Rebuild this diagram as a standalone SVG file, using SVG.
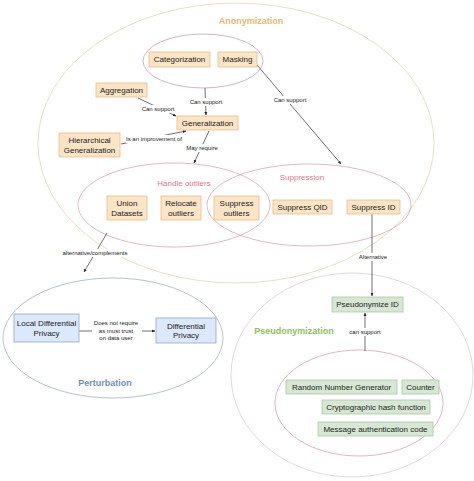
<svg xmlns="http://www.w3.org/2000/svg" width="474" height="481" viewBox="0 0 474 481">
<style>
text{font-family:"Liberation Sans",Arial,sans-serif;text-anchor:middle;dominant-baseline:central}
.n{font-size:8px;fill:#222}
.o rect{fill:#fce4c4;stroke:#e6bf8c;stroke-width:0.8}
.g rect{fill:#d6e8d3;stroke:#a9c9a3;stroke-width:0.8}
.b rect{fill:#dce8fb;stroke:#8ea9cc;stroke-width:0.8}
.l{font-size:6px;fill:#222}
.lb{fill:#fff}
.e{fill:none;stroke-width:0.8}
.c line{stroke:#333;stroke-width:0.7;marker-end:url(#a)}
</style>
<defs>
<marker id="a" viewBox="0 0 10 10" refX="9" refY="5" markerWidth="5" markerHeight="5" orient="auto"><path d="M0,1 L10,5 L0,9 z" fill="#222"/></marker>
</defs>
<rect width="474" height="481" fill="#fff"/>
<g id="anonymization">
<ellipse class="e" cx="236" cy="143" rx="198" ry="140" stroke="#e3d7b3"/>
<text x="251" y="21" style="font-size:9px;font-weight:bold;fill:#e8b96d">Anonymization</text>
</g>
<g id="perturbation">
<ellipse class="e" cx="113" cy="338" rx="110" ry="60" stroke="#a4b1c6"/>
<text x="105" y="383" style="font-size:9px;font-weight:bold;fill:#6f8fb8">Perturbation</text>
</g>
<g id="pseudonymization">
<ellipse class="e" cx="352" cy="375" rx="121" ry="102" stroke="#dcd0cc"/>
<text x="294" y="331" style="font-size:9px;font-weight:bold;fill:#8cc060">Pseudonymization</text>
</g>
<g id="group-cat-mask"><ellipse class="e" cx="203" cy="61" rx="60" ry="27" stroke="#c6a1b8"/></g>
<g id="handle-outliers">
<ellipse class="e" cx="174" cy="205" rx="96" ry="42" stroke="#d9a7b3"/>
<text x="184" y="183" style="font-size:8px;fill:#e2788a">Handle outliers</text>
</g>
<g id="suppression">
<ellipse class="e" cx="309" cy="205" rx="102" ry="41" stroke="#d9a7b3"/>
<text x="302" y="177" style="font-size:8px;fill:#e2788a">Suppression</text>
</g>
<g id="generators"><ellipse class="e" cx="359" cy="403" rx="84" ry="53" stroke="#d7a3b0"/></g>

<g id="connectors" class="c">
<line x1="205" y1="88" x2="206" y2="115"/>
<line x1="138" y1="98" x2="176" y2="116"/>
<line x1="121" y1="144" x2="186" y2="131"/>
<line x1="209" y1="131" x2="194" y2="163"/>
<line x1="257" y1="65" x2="341" y2="164"/>
<line x1="107" y1="233" x2="84" y2="272"/>
<line x1="372" y1="214" x2="372" y2="296"/>
<line x1="79" y1="331" x2="155" y2="331"/>
<line x1="365" y1="351" x2="365" y2="313"/>
<g id="edge-labels">
<rect class="lb" x="190" y="98" width="33" height="8"/><text class="l" x="206" y="102">Can support</text>
<rect class="lb" x="142" y="105" width="33" height="8"/><text class="l" x="158" y="109">Can support</text>
<rect class="lb" x="126" y="135" width="56" height="8"/><text class="l" x="154" y="139">Is an improvement of</text>
<rect class="lb" x="186" y="144" width="32" height="8"/><text class="l" x="202" y="148">May require</text>
<rect class="lb" x="274" y="96" width="33" height="8"/><text class="l" x="290" y="100">Can support</text>
<rect class="lb" x="58" y="249" width="74" height="8"/><text class="l" x="95" y="253">alternative/complements</text>
<rect class="lb" x="358" y="253" width="30" height="8"/><text class="l" x="373" y="257">Alternative</text>
<rect class="lb" x="92" y="318" width="50" height="24"/>
<text class="l" x="116" y="323">Does not require</text>
<text class="l" x="116" y="331">as must trust</text>
<text class="l" x="116" y="338">on data user</text>
<rect class="lb" x="350" y="328" width="31" height="8"/><text class="l" x="365" y="332">can support</text>
</g>
</g>

<g id="categorization" class="o"><rect x="149" y="52" width="61" height="15"/><text class="n" x="179.5" y="59.5">Categorization</text></g>
<g id="masking" class="o"><rect x="218" y="52" width="39" height="15"/><text class="n" x="237.5" y="59.5">Masking</text></g>
<g id="aggregation" class="o"><rect x="96" y="83" width="51" height="14"/><text class="n" x="121.5" y="90">Aggregation</text></g>
<g id="generalization" class="o"><rect x="177" y="116" width="61" height="14"/><text class="n" x="207.5" y="123">Generalization</text></g>
<g id="hierarchical-generalization" class="o"><rect x="59" y="133" width="61" height="24"/><text class="n" x="89.5" y="140.5">Hierarchical</text><text class="n" x="89.5" y="150">Generalization</text></g>
<g id="union-datasets" class="o"><rect x="107" y="196" width="40" height="24"/><text class="n" x="127" y="203.5">Union</text><text class="n" x="127" y="213">Datasets</text></g>
<g id="relocate-outliers" class="o"><rect x="161" y="196" width="40" height="24"/><text class="n" x="181" y="203.5">Relocate</text><text class="n" x="181" y="213">outliers</text></g>
<g id="suppress-outliers" class="o"><rect x="214" y="196" width="45" height="24"/><text class="n" x="236.5" y="203.5">Suppress</text><text class="n" x="236.5" y="213">outliers</text></g>
<g id="suppress-qid" class="o"><rect x="273" y="200" width="59" height="14"/><text class="n" x="302.5" y="207">Suppress QID</text></g>
<g id="suppress-id" class="o"><rect x="347" y="200" width="53" height="14"/><text class="n" x="373.5" y="207">Suppress ID</text></g>
<g id="local-dp" class="b"><rect x="14" y="314" width="65" height="28"/><text class="n" x="46.5" y="323.5">Local Differential</text><text class="n" x="46.5" y="333">Privacy</text></g>
<g id="dp" class="b"><rect x="156" y="318" width="60" height="25"/><text class="n" x="186" y="326">Differential</text><text class="n" x="186" y="335.5">Privacy</text></g>
<g id="pseudonymize-id" class="g"><rect x="332" y="297" width="71" height="15"/><text class="n" x="367.5" y="304.5">Pseudonymize ID</text></g>
<g id="rng" class="g"><rect x="286" y="380" width="111" height="14"/><text class="n" x="341.5" y="387">Random Number Generator</text></g>
<g id="counter" class="g"><rect x="402" y="380" width="37" height="14"/><text class="n" x="420.5" y="387">Counter</text></g>
<g id="hash" class="g"><rect x="322" y="400" width="108" height="14"/><text class="n" x="376" y="407">Cryptographic hash function</text></g>
<g id="mac" class="g"><rect x="318" y="422" width="115" height="14"/><text class="n" x="375.5" y="429">Message authentication code</text></g>
</svg>
